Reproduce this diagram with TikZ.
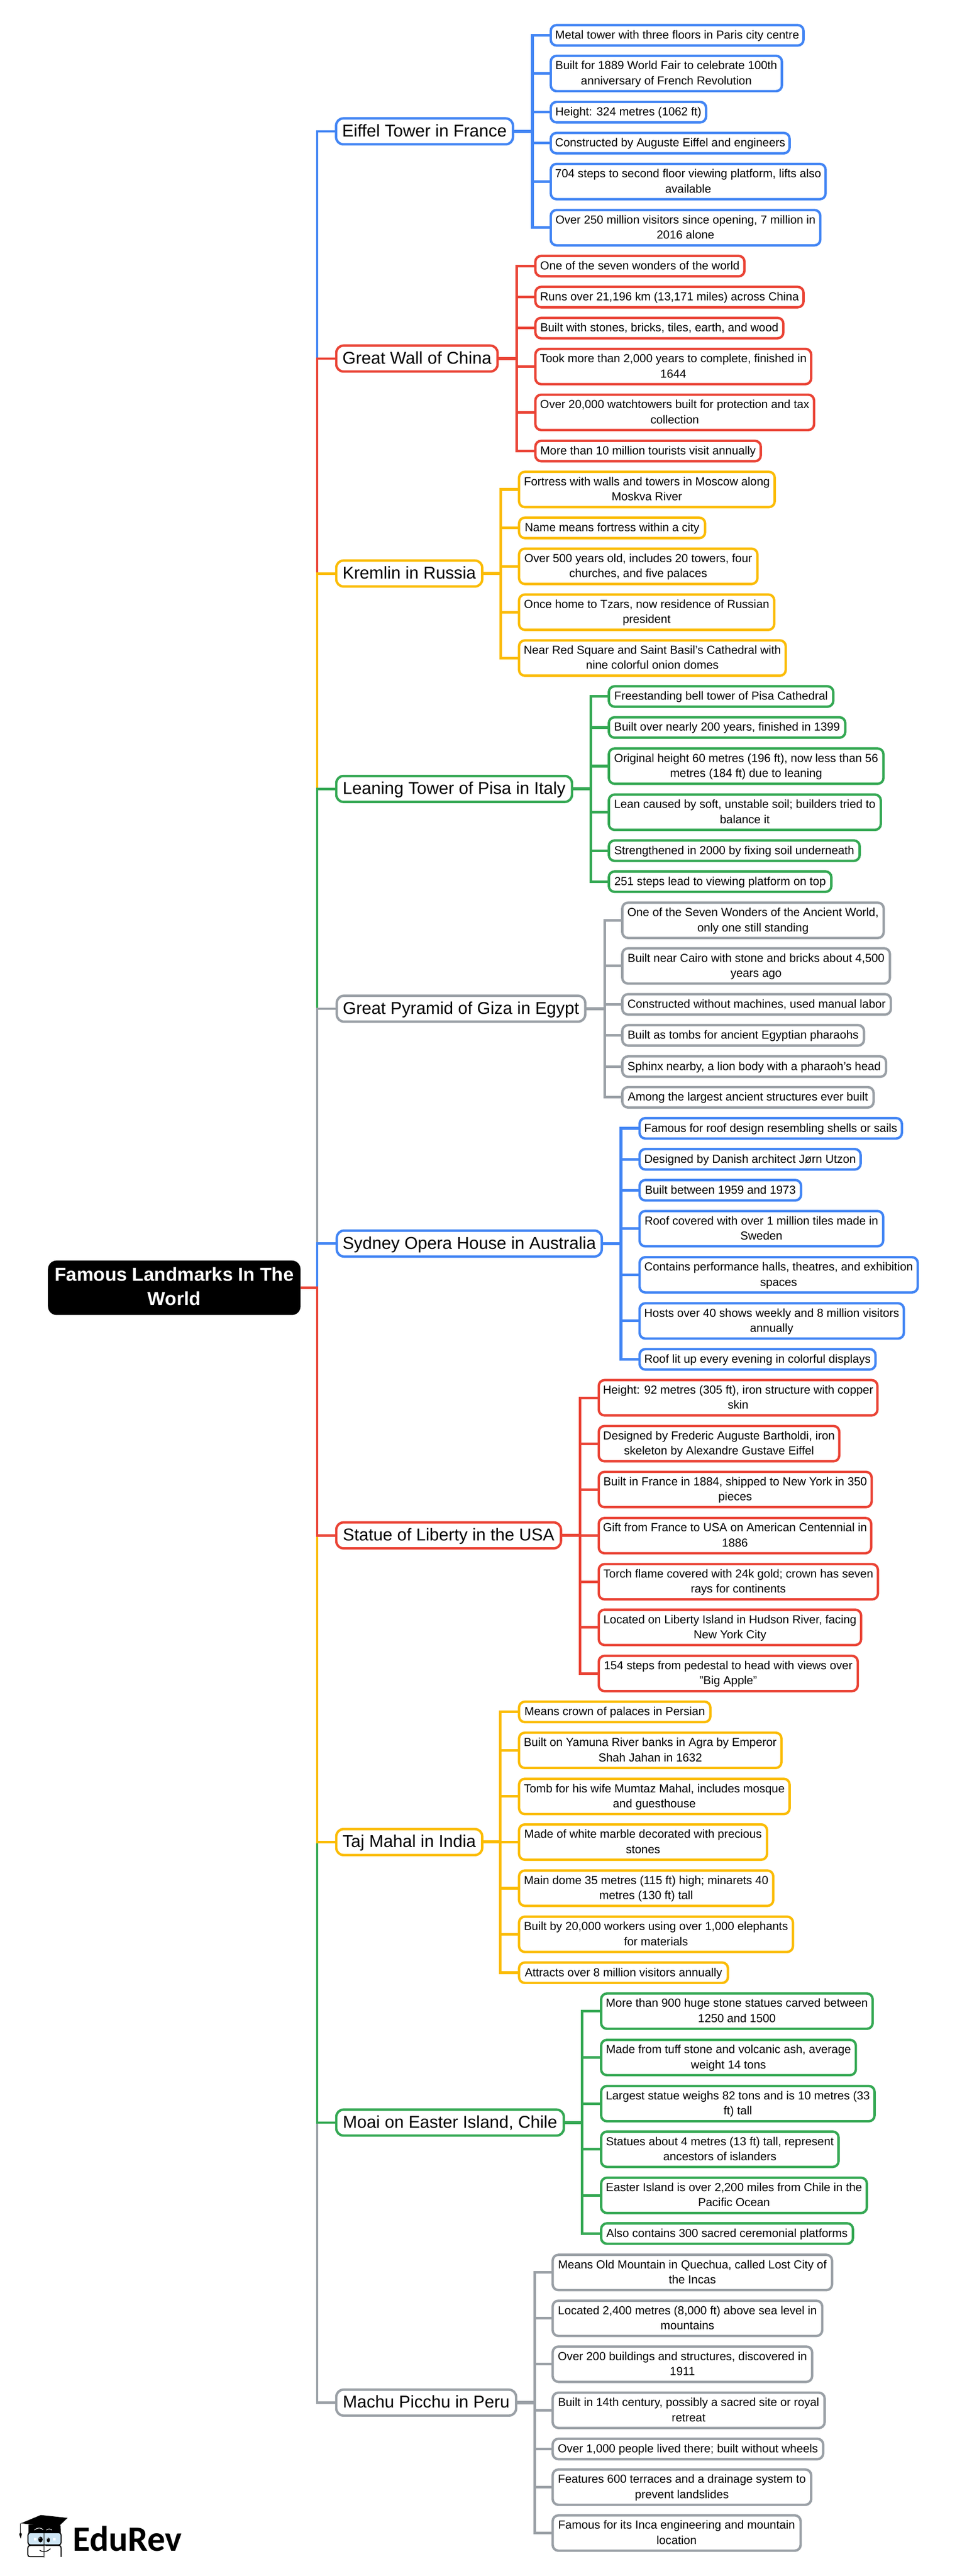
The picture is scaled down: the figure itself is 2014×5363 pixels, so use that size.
\documentclass[tikz,border=0pt]{standalone}
\usepackage{fontspec}
\setmainfont{Liberation Sans}
\newfontfamily\logofont{Carlito}
\definecolor{cblue}{HTML}{4285F4}
\definecolor{cred}{HTML}{EA4335}
\definecolor{cyellow}{HTML}{FBBC04}
\definecolor{cgreen}{HTML}{34A853}
\definecolor{cgray}{HTML}{9AA0A6}
\definecolor{lens}{HTML}{CFE6F5}
\newcommand{\lst}{\rule[-5.5pt]{0pt}{26pt}}
\newcommand{\tst}{\rule[-8pt]{0pt}{38pt}}
\newcommand{\rst}{\rule[-9.6pt]{0pt}{41.6pt}}
\tikzset{
  leaf/.style={draw=#1,line width=5pt,fill=white,rounded corners=12pt,inner sep=0pt,outer sep=0pt,align=center,text=black,font=\fontsize{24.25}{31.5}\selectfont},
  topic/.style={draw=#1,line width=5pt,fill=white,rounded corners=15pt,inner sep=0pt,outer sep=0pt,align=center,text=black,font=\fontsize{35.7}{42}\selectfont},
  rootnode/.style={fill=black,rounded corners=18pt,inner sep=0pt,outer sep=0pt,align=center,text=white,font=\fontsize{39.3}{51}\selectfont\bfseries},
  wire/.style={draw=#1,line width=5.5pt},
  stubwire/.style={draw=#1,line width=6.5pt},
  mainwire/.style={draw=#1,line width=5pt}
}
% name, outer left, outer right, y centre, colour, text (one line)
\newcommand{\lfa}[6]{\pgfmathsetmacro{\bw}{#3-#2-2.5}\pgfmathsetmacro{\bx}{(#2+#3)/2}%
  \node[leaf=#5,minimum width=\bw pt,minimum height=42.5pt] (#1) at (\bx,#4) {\lst #6};}
% same, two lines
\newcommand{\lfb}[6]{\pgfmathsetmacro{\bw}{#3-#2-2.5}\pgfmathsetmacro{\bx}{(#2+#3)/2}%
  \node[leaf=#5,minimum width=\bw pt,minimum height=73.5pt] (#1) at (\bx,#4) {\lst #6\lst};}
% name, left, right, y centre, colour, text
\newcommand{\tpc}[6]{\pgfmathsetmacro{\bw}{#3-#2-5}\pgfmathsetmacro{\bx}{(#2+#3)/2}%
  \node[topic=#5,minimum width=\bw pt,minimum height=54pt] (#1) at (\bx,#4) {\tst #6};}
% colour, parent, spine x, leaves
\newcommand{\branch}[4]{\coordinate (#2spine) at (#3,0);%
  \foreach \lf in {#4}{\draw[wire=#1] (#2.east -| #2spine) |- (\lf.west);}%
  \draw[stubwire=#1] (#2.east) -- (#2.east -| #2spine);}
\begin{document}
\begin{tikzpicture}[x=1pt,y=-1pt]
\useasboundingbox (0,0) rectangle (2014,5363);
\fill[white] (0,0) rectangle (2014,5363);

\node[rootnode,minimum width=526pt,minimum height=113.5pt] (root) at (363,2681) {\rst Famous Landmarks In The\\World\rst};
\coordinate (rootspine) at (660.7,2681);

% Eiffel
\tpc{eiffel}{697.6}{1071}{273.5}{cblue}{Eiffel Tower in France}
\lfa{e1}{1146}{1675}{73.5}{cblue}{Metal tower with three floors in Paris city centre}
\lfb{e2}{1146}{1630}{153}{cblue}{Built for 1889 World Fair to celebrate 100th\\anniversary of French Revolution}
\lfa{e3}{1146}{1472}{233.5}{cblue}{Height: 324 metres (1062 ft)}
\lfa{e4}{1146}{1646}{298}{cblue}{Constructed by Auguste Eiffel and engineers}
\lfb{e5}{1146}{1721}{378}{cblue}{704 steps to second floor viewing platform, lifts also\\available}
\lfb{e6}{1146}{1710}{474}{cblue}{Over 250 million visitors since opening, 7 million in\\2016 alone}
% Great Wall
\tpc{wall}{698}{1039}{746.5}{cred}{Great Wall of China}
\lfa{w1}{1114}{1552}{554}{cred}{One of the seven wonders of the world}
\lfa{w2}{1114}{1675}{618.5}{cred}{Runs over 21,196 km (13,171 miles) across China}
\lfa{w3}{1114}{1633}{683}{cred}{Built with stones, bricks, tiles, earth, and wood}
\lfb{w4}{1114}{1691}{763}{cred}{Took more than 2,000 years to complete, finished in\\1644}
\lfb{w5}{1114}{1697}{858.5}{cred}{Over 20,000 watchtowers built for protection and tax\\collection}
\lfa{w6}{1114}{1586}{939}{cred}{More than 10 million tourists visit annually}
% Kremlin
\tpc{krem}{698}{1007}{1194}{cyellow}{Kremlin in Russia}
\lfb{k1}{1080}{1615}{1019}{cyellow}{Fortress with walls and towers in Moscow along\\Moskva River}
\lfa{k2}{1080}{1470}{1099}{cyellow}{Name means fortress within a city}
\lfb{k3}{1080}{1579}{1179}{cyellow}{Over 500 years old, includes 20 towers, four\\churches, and five palaces}
\lfb{k4}{1080}{1614}{1274.5}{cyellow}{Once home to Tzars, now residence of Russian\\president}
\lfb{k5}{1080}{1638}{1370}{cyellow}{Near Red Square and Saint Basil's Cathedral with\\nine colorful onion domes}
% Pisa
\tpc{pisa}{698}{1194}{1642.5}{cgreen}{Leaning Tower of Pisa in Italy}
\lfa{p1}{1267}{1737}{1450}{cgreen}{Freestanding bell tower of Pisa Cathedral}
\lfa{p2}{1267}{1762}{1514.5}{cgreen}{Built over nearly 200 years, finished in 1399}
\lfb{p3}{1267}{1841.5}{1595}{cgreen}{Original height 60 metres (196 ft), now less than 56\\metres (184 ft) due to leaning}
\lfb{p4}{1267}{1836}{1691}{cgreen}{Lean caused by soft, unstable soil; builders tried to\\balance it}
\lfa{p5}{1267}{1792}{1771}{cgreen}{Strengthened in 2000 by fixing soil underneath}
\lfa{p6}{1267}{1733}{1835.5}{cgreen}{251 steps lead to viewing platform on top}
% Giza
\tpc{giza}{699}{1221.6}{2100}{cgray}{Great Pyramid of Giza in Egypt}
\lfb{g1}{1295}{1842}{1916}{cgray}{One of the Seven Wonders of the Ancient World,\\only one still standing}
\lfb{g2}{1295}{1855}{2011}{cgray}{Built near Cairo with stone and bricks about 4,500\\years ago}
\lfa{g3}{1295}{1857}{2091}{cgray}{Constructed without machines, used manual labor}
\lfa{g4}{1295}{1801}{2155.5}{cgray}{Built as tombs for ancient Egyptian pharaohs}
\lfa{g5}{1295}{1847}{2220.5}{cgray}{Sphinx nearby, a lion body with a pharaoh's head}
\lfa{g6}{1295}{1821}{2284.5}{cgray}{Among the largest ancient structures ever built}
% Sydney
\tpc{syd}{699}{1256}{2589}{cblue}{Sydney Opera House in Australia}
\lfa{s1}{1331}{1880}{2349}{cblue}{Famous for roof design resembling shells or sails}
\lfa{s2}{1331}{1794}{2413.5}{cblue}{Designed by Danish architect Jørn Utzon}
\lfa{s3}{1331}{1670}{2478}{cblue}{Built between 1959 and 1973}
\lfb{s4}{1331}{1841}{2558}{cblue}{Roof covered with over 1 million tiles made in\\Sweden}
\lfb{s5}{1331}{1913}{2654}{cblue}{Contains performance halls, theatres, and exhibition\\spaces}
\lfb{s6}{1331}{1884}{2750}{cblue}{Hosts over 40 shows weekly and 8 million visitors\\annually}
\lfa{s7}{1331}{1825}{2830}{cblue}{Roof lit up every evening in colorful displays}
% Statue
\tpc{stat}{698}{1171}{3196.5}{cred}{Statue of Liberty in the USA}
\lfb{l1}{1246}{1829}{2910}{cred}{Height: 92 metres (305 ft), iron structure with copper\\skin}
\lfb{l2}{1246}{1749.5}{3005.5}{cred}{Designed by Frederic Auguste Bartholdi, iron\\skeleton by Alexandre Gustave Eiffel}
\lfb{l3}{1246}{1817}{3101}{cred}{Built in France in 1884, shipped to New York in 350\\pieces}
\lfb{l4}{1246}{1816}{3197}{cred}{Gift from France to USA on American Centennial in\\1886}
\lfb{l5}{1246}{1830}{3293}{cred}{Torch flame covered with 24k gold; crown has seven\\rays for continents}
\lfb{l6}{1246}{1795}{3388}{cred}{Located on Liberty Island in Hudson River, facing\\New York City}
\lfb{l7}{1246}{1788}{3484}{cred}{154 steps from pedestal to head with views over\\"Big Apple"}
% Taj
\tpc{taj}{698}{1007}{3835}{cyellow}{Taj Mahal in India}
\lfa{t1}{1080}{1481}{3564}{cyellow}{Means crown of palaces in Persian}
\lfb{t2}{1080}{1629}{3644}{cyellow}{Built on Yamuna River banks in Agra by Emperor\\Shah Jahan in 1632}
\lfb{t3}{1080}{1646}{3740}{cyellow}{Tomb for his wife Mumtaz Mahal, includes mosque\\and guesthouse}
\lfb{t4}{1080}{1599}{3835}{cyellow}{Made of white marble decorated with precious\\stones}
\lfb{t5}{1080}{1612}{3931}{cyellow}{Main dome 35 metres (115 ft) high; minarets 40\\metres (130 ft) tall}
\lfb{t6}{1080}{1653}{4027}{cyellow}{Built by 20,000 workers using over 1,000 elephants\\for materials}
\lfa{t7}{1080}{1517.6}{4107}{cyellow}{Attracts over 8 million visitors annually}
% Moai
\tpc{moai}{698}{1177}{4419}{cgreen}{Moai on Easter Island, Chile}
\lfb{m1}{1251}{1819}{4187}{cgreen}{More than 900 huge stone statues carved between\\1250 and 1500}
\lfb{m2}{1251}{1784}{4283.5}{cgreen}{Made from tuff stone and volcanic ash, average\\weight 14 tons}
\lfb{m3}{1251}{1823}{4379.5}{cgreen}{Largest statue weighs 82 tons and is 10 metres (33\\ft) tall}
\lfb{m4}{1251}{1748}{4474.5}{cgreen}{Statues about 4 metres (13 ft) tall, represent\\ancestors of islanders}
\lfb{m5}{1251}{1807}{4570.5}{cgreen}{Easter Island is over 2,200 miles from Chile in the\\Pacific Ocean}
\lfa{m6}{1251}{1778}{4650}{cgreen}{Also contains 300 sacred ceremonial platforms}
% Machu
\tpc{mach}{698}{1077.6}{5002}{cgray}{Machu Picchu in Peru}
\lfb{c1}{1150}{1734.5}{4731}{cgray}{Means Old Mountain in Quechua, called Lost City of\\the Incas}
\lfb{c2}{1150}{1714}{4826.5}{cgray}{Located 2,400 metres (8,000 ft) above sea level in\\mountains}
\lfb{c3}{1150}{1693}{4922}{cgray}{Over 200 buildings and structures, discovered in\\1911}
\lfb{c4}{1150}{1719}{5018}{cgray}{Built in 14th century, possibly a sacred site or royal\\retreat}
\lfa{c5}{1150}{1716}{5098.5}{cgray}{Over 1,000 people lived there; built without wheels}
\lfb{c6}{1150}{1691}{5178}{cgray}{Features 600 terraces and a drainage system to\\prevent landslides}
\lfb{c7}{1150}{1669}{5273.5}{cgray}{Famous for its Inca engineering and mountain\\location}

% branch connectors
\branch{cblue}{eiffel}{1109}{e1,e2,e3,e4,e5,e6}
\branch{cred}{wall}{1076}{w1,w2,w3,w4,w5,w6}
\branch{cyellow}{krem}{1043}{k1,k2,k3,k4,k5}
\branch{cgreen}{pisa}{1231}{p1,p2,p3,p4,p5,p6}
\branch{cgray}{giza}{1260}{g1,g2,g3,g4,g5,g6}
\branch{cblue}{syd}{1293.5}{s1,s2,s3,s4,s5,s6,s7}
\branch{cred}{stat}{1208.5}{l1,l2,l3,l4,l5,l6,l7}
\branch{cyellow}{taj}{1042}{t1,t2,t3,t4,t5,t6,t7}
\branch{cgreen}{moai}{1213}{m1,m2,m3,m4,m5,m6}
\branch{cgray}{mach}{1114}{c1,c2,c3,c4,c5,c6,c7}

% main connectors (order gives the colour of each stretch of the trunk)
\draw[mainwire=cblue] (root.east) -- (rootspine) |- (eiffel.west);
\draw[mainwire=cred] (root.east) -- (rootspine) |- (wall.west);
\draw[mainwire=cyellow] (root.east) -- (rootspine) |- (krem.west);
\draw[mainwire=cgreen] (root.east) -- (rootspine) |- (pisa.west);
\draw[mainwire=cgray] (root.east) -- (rootspine) |- (giza.west);
\draw[mainwire=cblue] (root.east) -- (rootspine) |- (syd.west);
\draw[mainwire=cgray] (root.east) -- (rootspine) |- (mach.west);
\draw[mainwire=cgreen] (root.east) -- (rootspine) |- (moai.west);
\draw[mainwire=cyellow] (root.east) -- (rootspine) |- (taj.west);
\draw[mainwire=cred] (root.east) -- (rootspine) |- (stat.west);

% logo
\begin{scope}[shift={(0,5150)}]
\begin{scope}[x=0.3333pt,y=-0.3333pt]
  \fill[black] (178,318) -- (378,322) -- (380,368) -- (178,368) -- cycle;
  \draw[white,line width=1.2pt] (215,352) .. controls (235,335) and (255,335) .. (270,350);
  \draw[white,line width=1.2pt] (290,352) .. controls (300,343) and (315,343) .. (325,352);
  \fill[black] (130,310) -- (255,258) -- (422,276) -- (345,350) .. controls (300,335) and (220,318) .. (130,310) -- cycle;
  \draw[black,line width=1.5pt] (128,312) -- (128,372);
  \fill[black] (120,376) -- (128,368) -- (137,376) -- (129,406) -- cycle;
  \draw[black,line width=2.2pt,fill=lens,rounded corners=5pt] (175,368) rectangle (382,445);
  \draw[black,line width=2.2pt] (272,448) -- (190,448) .. controls (178,448) and (174,455) .. (174,470) -- (174,505) .. controls (174,514) and (178,518) .. (188,518) -- (272,518);
  \draw[black,line width=2.2pt] (285,448) -- (368,448) .. controls (378,448) and (382,455) .. (382,470) -- (382,520);
  \draw[black,line width=1.8pt] (275,365) -- (275,522);
  \fill[black] (253,411) ellipse [x radius=14,y radius=18];
  \fill[black] (302,414) ellipse [x radius=10,y radius=15];
  \fill[white] (249,402) circle [radius=4];
  \fill[white] (299,406) circle [radius=3];
  \fill[white] (212,400) rectangle (230,416);
  \fill[white] (330,400) rectangle (348,416);
  \draw[black,line width=1.6pt] (248,478) .. controls (265,492) and (295,490) .. (315,468);
\end{scope}
\node[inner sep=0pt,outer sep=0pt,anchor=base west,font=\logofont\bfseries\fontsize{74}{74}\selectfont] (edurev) at (152,161) {EduRev};
\end{scope}
\end{tikzpicture}
\end{document}
